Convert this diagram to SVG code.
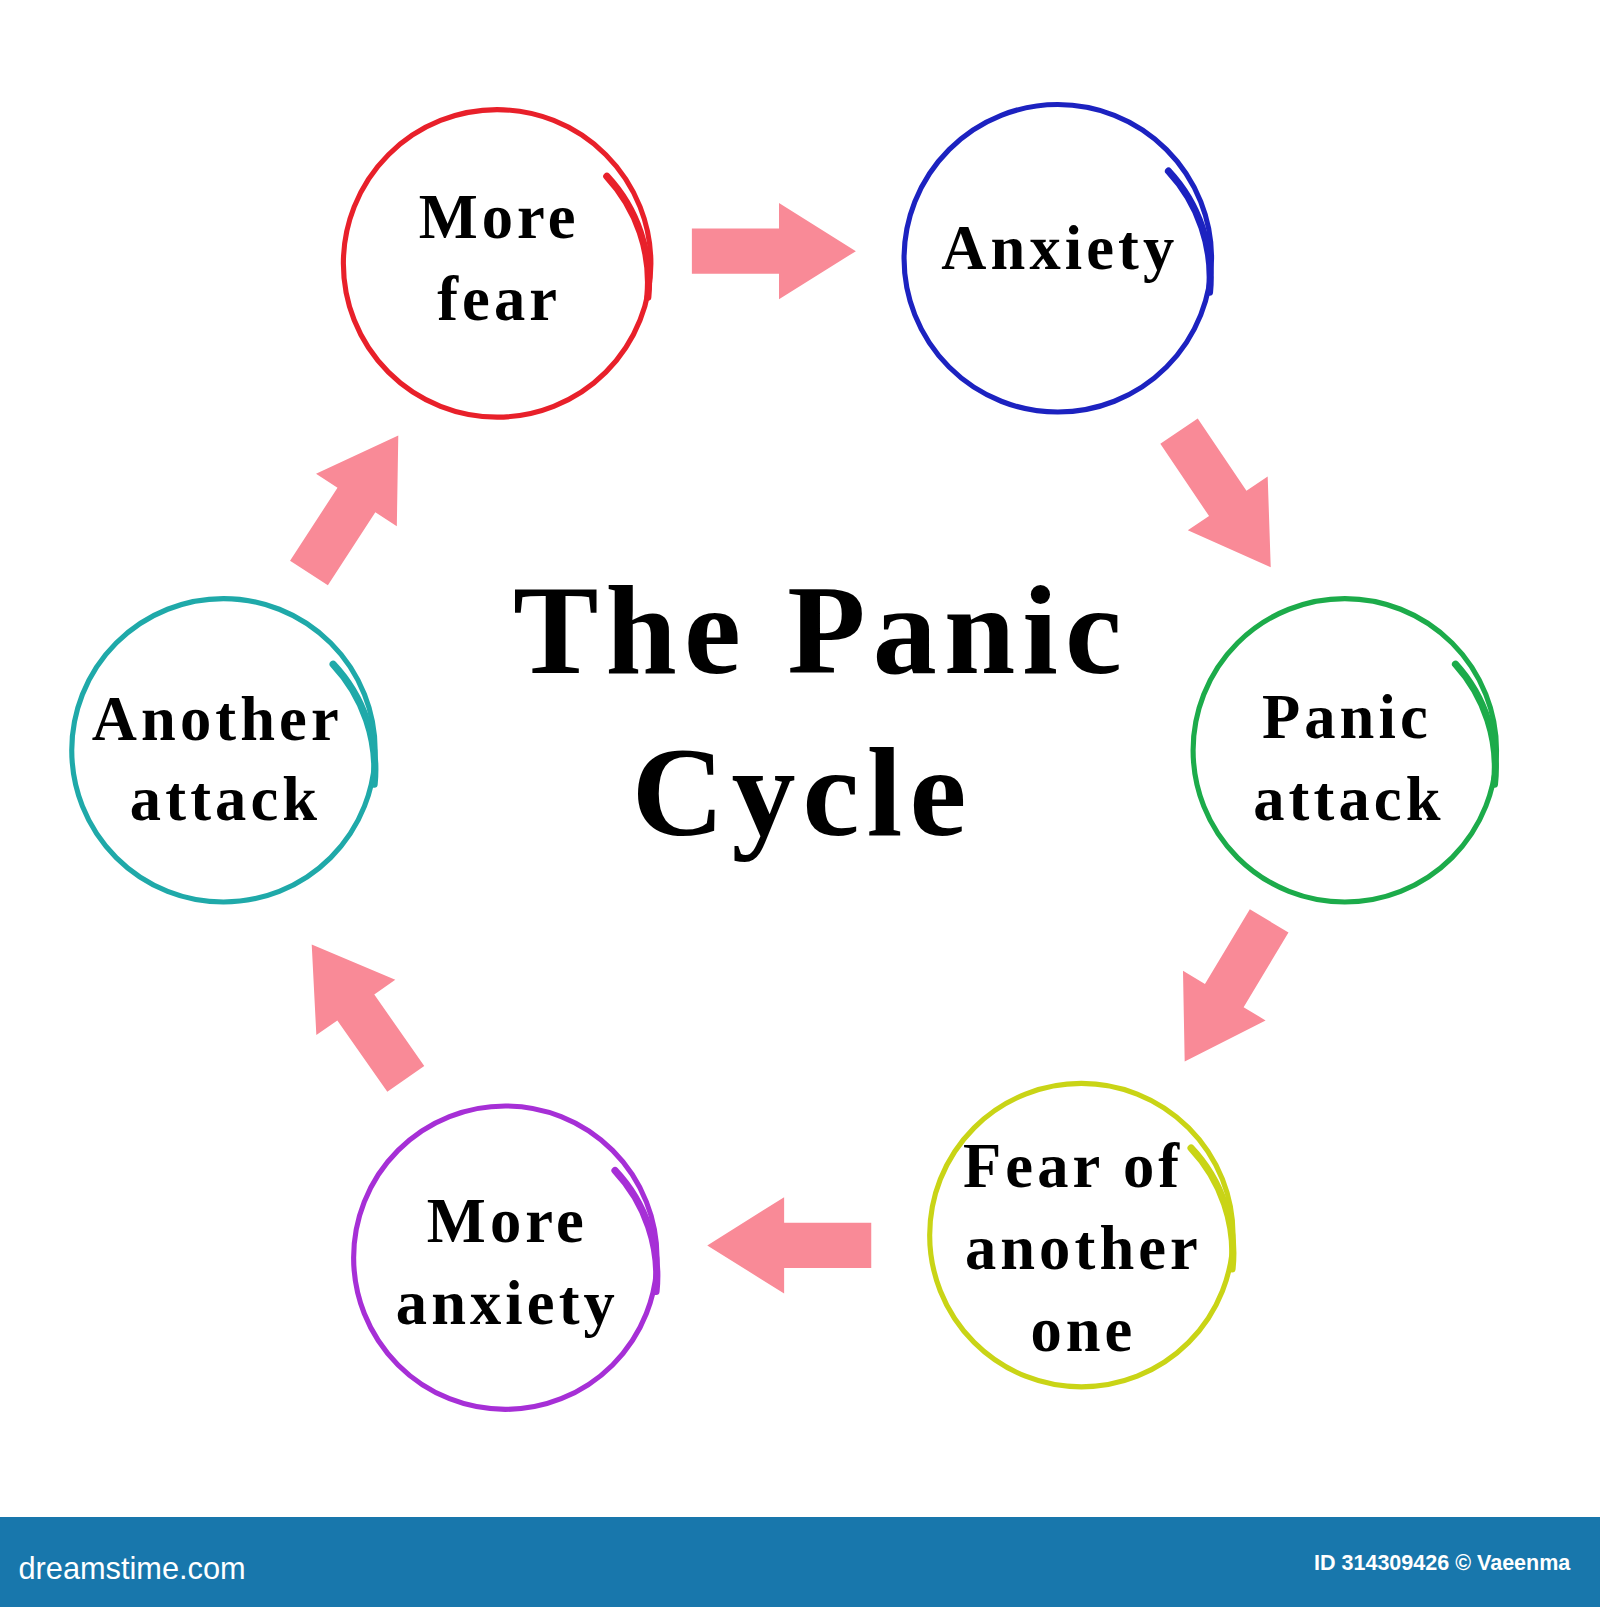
<svg xmlns="http://www.w3.org/2000/svg" width="1600" height="1607" viewBox="0 0 1600 1607">
<defs>
<style>
.c{fill:none;stroke-width:5}
.a{fill:none;stroke-width:7;stroke-linecap:round}
.t{font-family:"Liberation Serif",serif;font-weight:bold;font-size:61px;letter-spacing:4px;text-anchor:middle;fill:#000}
.h{font-family:"Liberation Serif",serif;font-weight:bold;font-size:125px;letter-spacing:7px;text-anchor:middle;fill:#000}
.arr{fill:#f98a97}
</style>
<path id="ar" d="M-80,-22 H5 V-47 L80,0 L5,47 V22 H-80 Z"/>
</defs>
<rect width="1600" height="1607" fill="#fff"/>
<g transform="scale(1.025)">
<g id="connectors" class="arr">
<use href="#ar" transform="translate(755,245)"/>
<use href="#ar" transform="translate(1195,487) rotate(56)"/>
<use href="#ar" transform="translate(1197,967) rotate(121)"/>
<use href="#ar" transform="translate(770,1215) rotate(180)"/>
<use href="#ar" transform="translate(350,987) rotate(235)"/>
<use href="#ar" transform="translate(345,492) rotate(-57)"/>
</g>
<g id="n1"><circle class="c" cx="485" cy="257" r="150" stroke="#e8202a"/><path class="a" stroke="#e8202a" d="M592,172 A152,152 0 0 1 632,290"/><text class="t" x="487" y="232">More</text><text class="t" x="487" y="312">fear</text></g>
<g id="n2"><circle class="c" cx="1032" cy="252" r="150" stroke="#1c22c0"/><path class="a" stroke="#1c22c0" d="M1140,167 A152,152 0 0 1 1180,285"/><text class="t" x="1034" y="262">Anxiety</text></g>
<g id="n3"><circle class="c" cx="1312" cy="732" r="148" stroke="#1cab4a"/><path class="a" stroke="#1cab4a" d="M1420,648 A150,150 0 0 1 1458,765"/><text class="t" x="1314" y="720">Panic</text><text class="t" x="1316" y="800">attack</text></g>
<g id="n4"><circle class="c" cx="1055" cy="1205" r="148" stroke="#c9d416"/><path class="a" stroke="#c9d416" d="M1162,1120 A150,150 0 0 1 1202,1238"/><text class="t" x="1047" y="1158">Fear of</text><text class="t" x="1057" y="1238">another</text><text class="t" x="1057" y="1318">one</text></g>
<g id="n5"><circle class="c" cx="493" cy="1227" r="148" stroke="#a62fd6"/><path class="a" stroke="#a62fd6" d="M600,1142 A150,150 0 0 1 640,1260"/><text class="t" x="495" y="1212">More</text><text class="t" x="495" y="1292">anxiety</text></g>
<g id="n6"><circle class="c" cx="218" cy="732" r="148" stroke="#1fa9a9"/><path class="a" stroke="#1fa9a9" d="M325,648 A150,150 0 0 1 365,765"/><text class="t" x="212" y="722">Another</text><text class="t" x="220" y="800">attack</text></g>
<g id="title"><text class="h" x="801" y="657">The Panic</text><text class="h" x="783" y="815">Cycle</text></g>
<rect x="0" y="1480" width="1561" height="90" fill="#1877ac"/>
<text x="18" y="1540" font-family="Liberation Sans,sans-serif" font-size="30" fill="#fff">dreamstime.com</text>
<text x="1532" y="1532" font-family="Liberation Sans,sans-serif" font-size="21" font-weight="bold" fill="#fff" text-anchor="end">ID 314309426 © Vaeenma</text>
</g>
</svg>
